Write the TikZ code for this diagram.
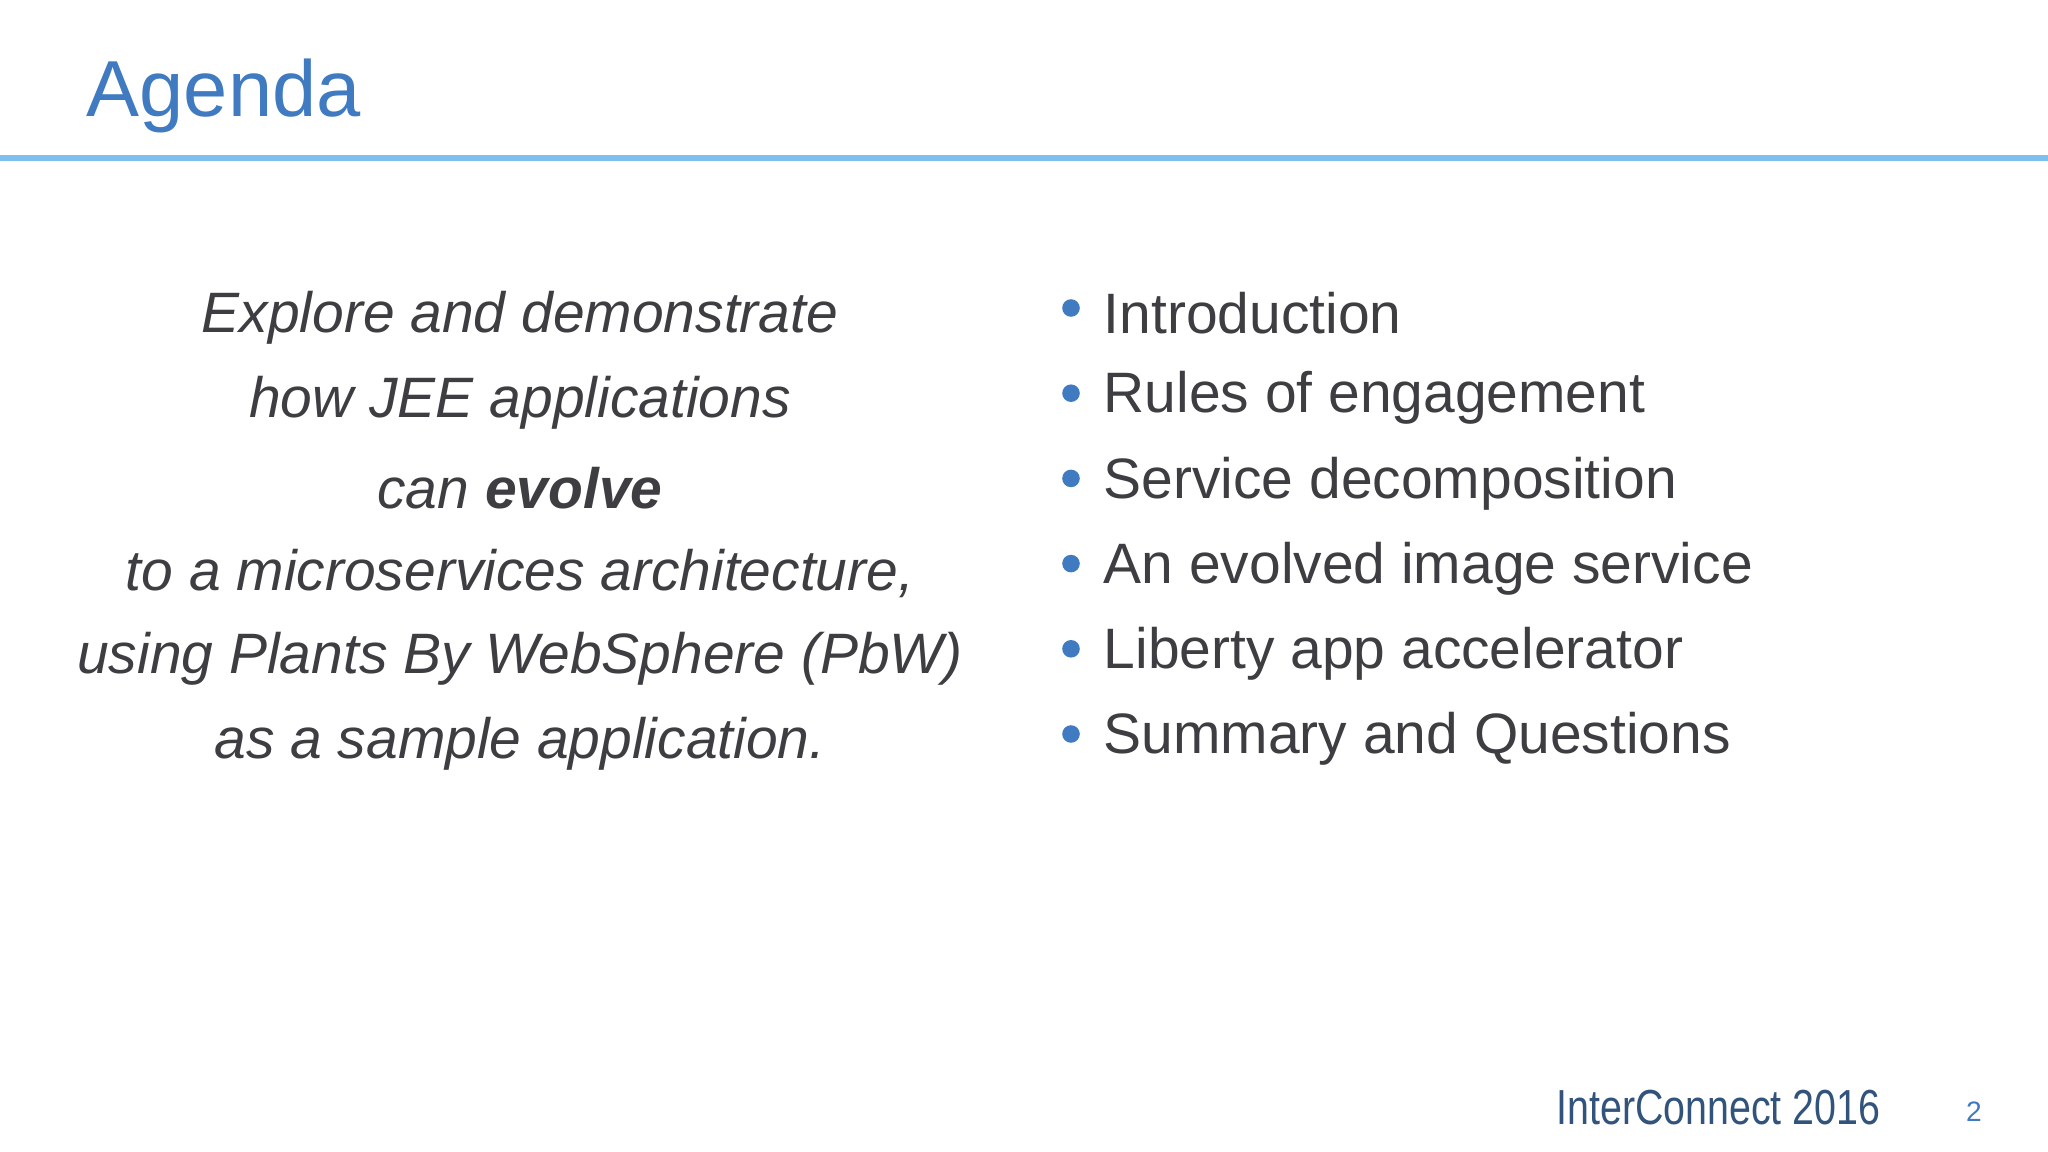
\documentclass[tikz,border=0pt]{standalone}
\usepackage{fontspec}
\setmainfont{Liberation Sans}
\begin{document}
\begin{tikzpicture}[x=0.01cm,y=-0.01cm]
\definecolor{ttl}{RGB}{64,122,192}
\definecolor{rule}{RGB}{125,192,240}
\definecolor{txt}{RGB}{62,62,66}
\definecolor{brand}{RGB}{50,84,124}
\tikzset{lt/.style={font=\fontsize{16.2}{19}\selectfont\itshape,text=txt,anchor=center},
 bl/.style={font=\fontsize{16.2}{19}\selectfont,text=txt,anchor=west,inner sep=0pt},
 dot/.style={circle,fill=ttl,inner sep=0pt,minimum size=5pt}}
\useasboundingbox (0,0) rectangle (2048,1152);
\node[anchor=west,inner sep=0pt,font=\fontsize{22.6}{26}\selectfont,text=ttl] (title) at (86,96) {Agenda};
\draw[rule,line width=1.6pt] (0,158) -- (2048,158);
\foreach \t [count=\i] in {Explore and demonstrate,how JEE applications,can \textbf{evolve},{to a microservices architecture,},using Plants By WebSphere (PbW),as a sample application.}{
 \node[lt] (l\i) at (520,{318+85.2*(\i-1)}) {\t};
}
\foreach \t [count=\i] in {Introduction,Rules of engagement,Service decomposition,An evolved image service,Liberty app accelerator,Summary and Questions}{
 \node[dot] (d\i) at (1071,{313+85.2*(\i-1)-5}) {};
 \node[bl] (b\i) at (1103,{313+85.2*(\i-1)}) {\t};
}
\node[anchor=east,inner sep=0pt,xscale=0.8,font=\fontsize{14}{16}\selectfont,text=brand] (brand) at (1881,1108) {InterConnect 2016};
\node[font=\fontsize{8}{10}\selectfont,text=ttl] (pg) at (1974,1112) {2};
\end{tikzpicture}
\end{document}
